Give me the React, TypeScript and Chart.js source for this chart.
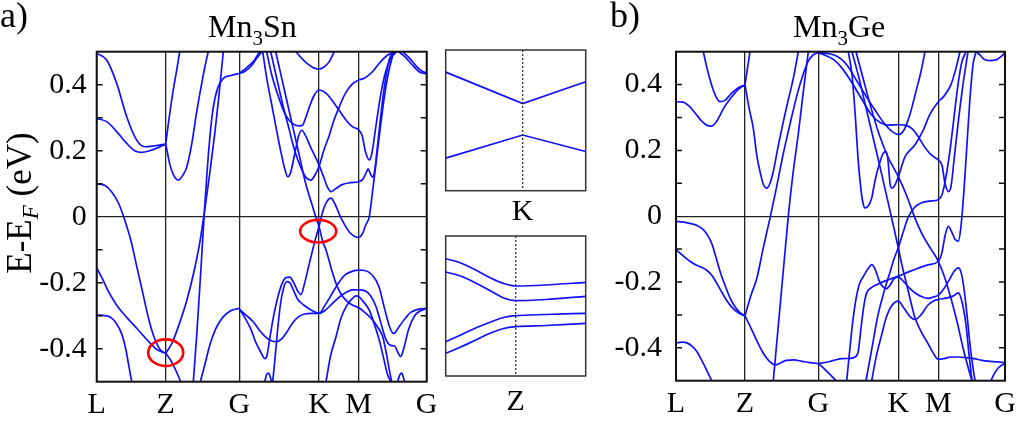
import React, { useEffect, useRef } from "react";
import { Chart, registerables } from "chart.js";
Chart.register(...registerables);

type Pt = [number, number];
const SERIF = '"Liberation Serif", "Times New Roman", serif';
const BLUE = "#1010ff";

// ---- axes ----
const kLabels = ["L", "Z", "G", "K", "M", "G"];
const snKTicks = [0, 69, 142.6, 222.3, 262, 330];
const geKTicks = [0, 69, 142.3, 222.3, 262.3, 329];
const energyTicks = [-0.4, -0.2, 0, 0.2, 0.4];
const minorTicks = [-0.4, -0.3, -0.2, -0.1, 0.1, 0.2, 0.3, 0.4];

// ---- Mn3Sn bands (k, E in eV) ----
const snLZ1: Pt[] = [[0,0.495],[10,0.475],[20,0.404],[30,0.303],[40,0.232],[48,0.212],[58,0.215],[69,0.22]];
const snLZ2: Pt[] = [[0,0.298],[10,0.288],[20,0.258],[30,0.222],[38,0.2],[45,0.195],[53,0.2],[62,0.21],[69,0.22]];
const snLZ3: Pt[] = [[0,0.1],[8,0.095],[15,0.075],[22,0.04],[28,-0.01],[34,-0.07],[40,-0.15],[46,-0.23],[52,-0.31],[58,-0.37],[64,-0.405],[69,-0.414]];
const snLZ4: Pt[] = [[0,-0.155],[6,-0.19],[12,-0.228],[20,-0.268],[30,-0.305],[40,-0.338],[50,-0.372],[60,-0.402],[69,-0.414]];
const snLZ5: Pt[] = [[0,-0.298],[8,-0.3],[14,-0.305],[20,-0.325],[25,-0.355],[29,-0.4],[32,-0.45],[35,-0.5]];
const snZG1: Pt[] = [[69,0.22],[72,0.29],[75,0.354],[78,0.41],[80,0.444],[83,0.5]];
const snZG2: Pt[] = [[69,0.22],[71,0.19],[73,0.16],[77,0.125],[81.6,0.111],[86,0.125],[90,0.15],[95,0.22],[100,0.318],[106,0.42],[110,0.48],[111.6,0.5]];
const snZG3: Pt[] = [[69,-0.414],[74,-0.435],[79,-0.465],[84,-0.5]];
const snZG4: Pt[] = [[69,-0.414],[75,-0.385],[82,-0.33],[90,-0.255],[97,-0.17],[103,-0.08],[108,0.02],[113,0.13],[118,0.25],[122,0.36],[126.6,0.5]];
const snZG5: Pt[] = [[96.6,-0.5],[100,-0.36],[104,-0.17],[108,0.03],[112,0.2],[116,0.32],[121,0.39],[127,0.42],[134,0.428],[142.6,0.434]];
const snZG6: Pt[] = [[103.6,-0.5],[108,-0.45],[113,-0.39],[119,-0.34],[126,-0.305],[134,-0.285],[142.6,-0.278]];
const snGK1: Pt[] = [[142.6,0.434],[150,0.452],[157,0.472],[163,0.5]];
const snGK2: Pt[] = [[142.6,0.434],[148,0.44],[154,0.455],[160,0.48],[165,0.5]];
const snGK3: Pt[] = [[166,0.5],[170,0.42],[175,0.34],[180,0.26],[185,0.185],[188.5,0.14],[191,0.121],[194,0.135],[198,0.19],[202,0.245],[205,0.262],[209,0.245],[214,0.21],[218,0.185],[222.3,0.157],[227,0.12],[231,0.088],[234.3,0.076],[239,0.085],[246,0.098],[254,0.103],[262,0.106],[266,0.113],[269,0.13],[271.5,0.145],[274,0.128],[276,0.12],[278,0.14],[281,0.22],[285,0.33],[289,0.42],[293,0.48],[297,0.5]];
const snGK4: Pt[] = [[170,0.5],[175,0.43],[181,0.37],[187,0.32],[193,0.29],[199,0.277],[203,0.275],[206,0.278],[209,0.3],[213,0.335],[217,0.365],[222.3,0.384],[229,0.375],[236,0.35],[243,0.32],[250,0.29],[256,0.272],[262,0.263],[265.5,0.245],[268.5,0.2],[272.6,0.172],[275,0.19],[279,0.27],[284,0.37],[289,0.44],[294,0.48],[300,0.5]];
const snGK5: Pt[] = [[174,0.5],[180,0.42],[186,0.34],[192,0.27],[198,0.2],[204,0.15],[209,0.12],[214.3,0.111],[218,0.125],[222.3,0.152],[227,0.2],[232.6,0.247],[237,0.29],[242.6,0.333],[248,0.37],[255,0.4],[262,0.414],[268,0.42],[276,0.44],[284,0.47],[291,0.49],[298,0.5]];
const snGK6: Pt[] = [[179,0.5],[185,0.42],[191,0.34],[197,0.26],[203,0.18],[209,0.1],[215,0.04],[219,0.0],[222.3,-0.03],[226,-0.075],[229.3,-0.101],[236,-0.172],[241,-0.215],[246,-0.242],[251,-0.258],[256,-0.268],[262,-0.276],[268,-0.29],[276,-0.313],[281,-0.335],[286,-0.364],[290,-0.42],[293,-0.47],[295,-0.5]];
const snGK7: Pt[] = [[222.3,-0.03],[226,0.015],[230,0.045],[234.3,0.056],[238,0.04],[243,0.005],[248,-0.025],[253,-0.048],[258,-0.06],[262,-0.063],[266,-0.05],[269,-0.025],[272.6,0.0],[276,0.08],[280,0.18],[284,0.28],[288,0.37],[292,0.44],[297,0.5]];
const snGK8: Pt[] = [[142.6,-0.28],[148,-0.305],[154,-0.34],[159,-0.38],[164,-0.41],[168,-0.43],[170,-0.424],[173,-0.37],[177,-0.3],[181,-0.245],[185,-0.205],[189,-0.185],[193,-0.183],[197,-0.2],[201,-0.225],[204.3,-0.236],[208,-0.2],[212,-0.15],[216,-0.1],[219,-0.065],[222.3,-0.03]];
const snGK9: Pt[] = [[142.6,-0.28],[150,-0.3],[157,-0.32],[163,-0.345],[169,-0.365],[174,-0.375],[179.3,-0.379],[185,-0.37],[190,-0.35],[196,-0.322],[202,-0.303],[208,-0.295],[215,-0.293],[222.3,-0.293],[228,-0.27],[235,-0.235],[242,-0.2],[249,-0.175],[256,-0.165],[262,-0.162],[268,-0.163],[275,-0.175],[282,-0.21],[288,-0.28],[293,-0.335],[297,-0.354],[302,-0.335],[308,-0.31],[314,-0.29],[322,-0.28],[330,-0.278]];
const snGK10: Pt[] = [[176,-0.5],[178,-0.44],[181,-0.34],[184,-0.26],[187,-0.215],[190,-0.197],[193,-0.2],[197,-0.225],[201,-0.25],[204,-0.26],[208,-0.27],[214,-0.282],[222.3,-0.293],[228,-0.285],[235,-0.265],[242,-0.245],[250,-0.228],[256,-0.222],[262,-0.222],[268,-0.224],[274,-0.24],[279,-0.27],[284,-0.32],[289,-0.37],[294,-0.39],[298,-0.392],[301,-0.41],[304,-0.424],[307,-0.4],[312,-0.34],[318,-0.3],[324,-0.285],[330,-0.278]];
const snGK11: Pt[] = [[168,-0.5],[170,-0.478],[172,-0.474],[174,-0.49],[175,-0.5]];
const snGK12: Pt[] = [[301,-0.5],[303,-0.48],[305,-0.474],[307,-0.49],[308,-0.5]];
const snGK13: Pt[] = [[229.3,-0.5],[234,-0.42],[239.3,-0.364],[244,-0.31],[249.3,-0.273],[255,-0.25],[259.3,-0.24],[262,-0.242],[266,-0.255],[272.6,-0.283],[277,-0.32],[282.6,-0.374],[287,-0.43],[291,-0.48],[294,-0.5]];
const snGK14: Pt[] = [[199.3,0.5],[205,0.48],[211,0.463],[217,0.451],[222.3,0.447],[227,0.453],[232.6,0.47],[237.6,0.5]];
const snGK15: Pt[] = [[302,0.5],[308,0.485],[315,0.462],[322,0.44],[330,0.432]];
const snGK16: Pt[] = [[306,0.5],[313,0.48],[320,0.455],[326,0.44],[330,0.435]];

// ---- Mn3Ge bands (k, E in eV) ----
const geLZ1: Pt[] = [[27.3,0.5],[31,0.45],[35,0.405],[39,0.37],[44,0.348],[49,0.352],[55,0.372],[62,0.39],[69,0.399]];
const geLZ2: Pt[] = [[0,0.348],[7,0.347],[13,0.335],[20,0.31],[26,0.288],[31,0.276],[35.7,0.274],[41,0.29],[48,0.33],[55,0.36],[62,0.385],[69,0.399]];
const geLZ3: Pt[] = [[0,-0.016],[8,-0.018],[14,-0.022],[21,-0.028],[27,-0.04],[32,-0.06],[36,-0.085],[40,-0.125],[44,-0.167],[49,-0.21],[54,-0.248],[59,-0.275],[64,-0.293],[69,-0.303]];
const geLZ4: Pt[] = [[0,-0.101],[7,-0.12],[14,-0.137],[20,-0.148],[26,-0.156],[31,-0.165],[36,-0.18],[41,-0.205],[46,-0.232],[51,-0.258],[56,-0.277],[62,-0.293],[69,-0.303]];
const geLZ5: Pt[] = [[0,-0.385],[6,-0.383],[11,-0.385],[16,-0.395],[21,-0.412],[26,-0.44],[31,-0.47],[35.7,-0.5]];
const geZG1: Pt[] = [[69,0.399],[71.5,0.45],[74,0.5]];
const geZG2: Pt[] = [[69,0.399],[73,0.33],[77.3,0.267],[81,0.18],[84,0.136],[87,0.1],[90.7,0.085],[94,0.1],[97.3,0.136],[102,0.21],[107.3,0.287],[112,0.35],[117.3,0.419],[122.3,0.5]];
const geZG3: Pt[] = [[69,-0.303],[75,-0.24],[81,-0.187],[87,-0.1],[94,-0.006],[100,0.08],[107,0.186],[114,0.28],[121,0.368],[127,0.43],[132,0.47],[137,0.49],[142.3,0.497]];
const geZG4: Pt[] = [[97.3,-0.5],[104.8,-0.25],[112.3,0],[117,0.13],[122.3,0.25],[127,0.37],[132.3,0.5]];
const geZG5: Pt[] = [[69,-0.303],[75,-0.34],[81,-0.38],[87,-0.415],[93,-0.44],[99,-0.452],[104,-0.447],[110,-0.438],[118,-0.437],[126,-0.441],[134,-0.445],[142.3,-0.448]];
const geGK1: Pt[] = [[142.3,0.497],[150,0.495],[158,0.49],[165,0.478],[172,0.455],[180,0.415],[190,0.365],[200,0.318],[208,0.283],[215,0.26],[222.3,0.248],[228,0.262],[234,0.31],[240,0.38],[245,0.44],[249,0.5]];
const geGK2: Pt[] = [[142.3,0.497],[150,0.488],[158,0.475],[166,0.45],[175,0.41],[185,0.36],[195,0.31],[205,0.283],[212,0.277],[222.3,0.278],[230,0.276],[236,0.266],[242,0.243],[248,0.213],[254,0.19],[258,0.18],[262.3,0.171],[266,0.155],[269,0.1],[272.3,0.075],[275,0.09],[278,0.17],[282,0.28],[287,0.4],[292,0.5]];
const geGK3: Pt[] = [[180,0.5],[187,0.42],[195,0.33],[203,0.25],[212,0.18],[222.3,0.12],[231,0.06],[239,-0.006],[247,-0.06],[255,-0.1],[262.3,-0.137],[268,-0.18],[275,-0.25],[281,-0.32],[287,-0.4],[293,-0.47],[296,-0.5]];
const geGK4: Pt[] = [[172.3,0.5],[176,0.43],[179,0.318],[182.3,0.166],[185,0.08],[187,0.04],[189,0.025],[192,0.03],[195.7,0.055],[198.5,0.1],[200.7,0.13],[204,0.165],[207,0.19],[210,0.196],[212,0.17],[214,0.1],[216,0.085],[219,0.095],[222.3,0.12],[229,0.18],[239,0.217],[247,0.26],[254,0.31],[262.3,0.348],[268,0.365],[275,0.4],[280,0.45],[284,0.5]];
const geGK5: Pt[] = [[176,0.5],[183,0.42],[190,0.33],[197,0.24],[204,0.15],[210,0.07],[216,-0.01],[222.3,-0.096],[226,-0.15],[229,-0.187],[234,-0.25],[239,-0.309],[245,-0.35],[252.3,-0.389],[258,-0.42],[262.3,-0.435],[268,-0.433],[275,-0.428],[282,-0.428],[290,-0.43],[298,-0.433],[306,-0.438],[314,-0.441],[321,-0.443],[329,-0.445]];
const geGK6: Pt[] = [[190,-0.5],[196,-0.4],[202,-0.3],[208,-0.23],[214,-0.17],[218,-0.13],[222.3,-0.096],[227,-0.05],[232,-0.005],[238,0.025],[245,0.04],[254,0.046],[262.3,0.05],[266,0.065],[270,0.12],[274,0.2],[278,0.3],[282,0.4],[286,0.47],[290,0.5]];
const geGK7: Pt[] = [[142.3,-0.448],[150,-0.444],[158,-0.438],[166,-0.433],[174,-0.432],[179,-0.428],[182.3,-0.41],[185,-0.34],[188,-0.27],[190.7,-0.233],[195,-0.218],[200.7,-0.208],[208,-0.198],[215,-0.19],[222.3,-0.182],[232,-0.17],[242,-0.158],[252,-0.148],[262.3,-0.137],[266,-0.11],[269,-0.06],[272.3,-0.031],[276,-0.05],[279,-0.07],[282.3,-0.076],[285,-0.03],[288,0.08],[291,0.22],[294,0.36],[297,0.46],[300,0.5]];
const geGK8: Pt[] = [[170.7,-0.5],[173,-0.43],[176,-0.34],[179,-0.27],[183,-0.21],[188,-0.18],[192,-0.16],[195.7,-0.147],[199,-0.16],[203,-0.195],[207,-0.215],[210.7,-0.22],[214,-0.21],[218,-0.19],[222.3,-0.185],[228,-0.2],[234,-0.22],[240,-0.235],[246,-0.245],[252,-0.25],[258,-0.245],[262.3,-0.24],[268,-0.22],[273,-0.195],[278,-0.168],[282.3,-0.157],[285,-0.17],[288,-0.22],[291,-0.3],[294,-0.39],[297,-0.46],[299,-0.5]];
const geGK9: Pt[] = [[195.7,-0.5],[200,-0.43],[205.7,-0.36],[210,-0.31],[215.7,-0.272],[222.3,-0.258],[228,-0.28],[234,-0.305],[239,-0.314],[245,-0.3],[252,-0.27],[258,-0.257],[262.3,-0.253],[270,-0.249],[277,-0.243],[282.3,-0.233],[286,-0.26],[290,-0.33],[293,-0.42],[296,-0.5]];
const geGK10: Pt[] = [[142.3,-0.448],[147,-0.46],[152,-0.475],[157,-0.49],[160,-0.5]];
const geGK11: Pt[] = [[315,-0.5],[318,-0.48],[322,-0.462],[326,-0.452],[329,-0.448]];
const geGK12: Pt[] = [[300,0.5],[304,0.49],[308,0.477],[314,0.473],[320,0.475],[325,0.485],[329,0.497]];

// ---- insets (relative units) ----
const insetKTick = 77;
const insetKUpper: Pt[] = [[0,118],[77,86.7],[140,108.4]];
const insetKLower: Pt[] = [[0,32.4],[77,55.4],[140,39]];
const insetZTick = 70;
const insetZ1: Pt[] = [[0,117.3],[15,113],[30,106],[45,98],[58,92.5],[70,90],[100,91],[140,93.7]];
const insetZ2: Pt[] = [[0,104],[15,100],[30,93],[45,85],[58,78],[70,75.3],[100,76.5],[140,79.7]];
const insetZ3: Pt[] = [[0,34.3],[15,41],[30,48],[45,54],[58,58.5],[70,60.3],[100,61.5],[140,62.7]];
const insetZ4: Pt[] = [[0,22.7],[15,29],[30,36],[45,43],[58,47.5],[70,49.3],[100,50.5],[140,52.7]];

const snBands = [snLZ1,snLZ2,snLZ3,snLZ4,snLZ5,snZG1,snZG2,snZG3,snZG4,snZG5,snZG6,snGK1,snGK2,snGK3,snGK4,snGK5,snGK6,snGK7,snGK8,snGK9,snGK10,snGK11,snGK12,snGK13,snGK14,snGK15,snGK16];
const geBands = [geLZ1,geLZ2,geLZ3,geLZ4,geLZ5,geZG1,geZG2,geZG3,geZG4,geZG5,geGK1,geGK2,geGK3,geGK4,geGK5,geGK6,geGK7,geGK8,geGK9,geGK10,geGK11,geGK12];

const toXY = (b: Pt[]) => b.map(([x, y]) => ({ x, y }));

type Part = { t: string; sub?: boolean; italic?: boolean };
function partsWidth(ctx: CanvasRenderingContext2D, parts: Part[], size: number, subSize: number) {
  let w = 0;
  for (const p of parts) {
    ctx.font = `${p.italic ? "italic " : ""}${p.sub ? subSize : size}px ${SERIF}`;
    w += ctx.measureText(p.t).width;
  }
  return w;
}
function drawParts(ctx: CanvasRenderingContext2D, x: number, y: number, parts: Part[], size: number, subSize: number, drop: number) {
  let cx = x;
  ctx.textAlign = "left";
  ctx.textBaseline = "alphabetic";
  ctx.fillStyle = "#000";
  for (const p of parts) {
    ctx.font = `${p.italic ? "italic " : ""}${p.sub ? subSize : size}px ${SERIF}`;
    ctx.fillText(p.t, cx, p.sub ? y + drop : y);
    cx += ctx.measureText(p.t).width;
  }
}

type Area = { left: number; top: number; right: number; bottom: number };

function bandConfig(p: {
  bands: Pt[][]; kTicks: number[]; xMax: number; w: number; h: number; area: Area;
  yPad: number; xPad: number; texts: (ctx: CanvasRenderingContext2D) => void;
  ellipses?: { k: number; e: number; rx: number; ry: number }[];
}): any {
  return {
    type: "line",
    data: {
      datasets: p.bands.map((b) => ({
        data: toXY(b), borderColor: BLUE, borderWidth: 1.7, pointRadius: 0, fill: false,
        cubicInterpolationMode: "monotone", clip: 0,
      })),
    },
    options: {
      animation: false, responsive: false, devicePixelRatio: 1, events: [],
      layout: { padding: { left: 0, top: p.area.top, right: p.w - p.area.right, bottom: 0 } },
      plugins: { legend: { display: false }, tooltip: { enabled: false } },
      scales: {
        x: {
          type: "linear", min: 0, max: p.xMax,
          afterBuildTicks: (s: any) => { s.ticks = p.kTicks.map((v) => ({ value: v })); },
          afterFit: (s: any) => { s.height = p.h - p.area.bottom; s.paddingLeft = 0; s.paddingRight = 0; },
          ticks: { autoSkip: false, maxRotation: 0, minRotation: 0, padding: p.xPad, color: "#000",
            font: { family: SERIF, size: 30 }, callback: (_v: any, i: number) => kLabels[i] },
          grid: { color: "#222", lineWidth: 1.3, drawTicks: false },
          border: { display: false },
        },
        y: {
          type: "linear", min: -0.5, max: 0.5,
          afterBuildTicks: (s: any) => { s.ticks = energyTicks.map((v) => ({ value: v })); },
          afterFit: (s: any) => { s.width = p.area.left; s.paddingTop = 0; s.paddingBottom = 0; },
          ticks: { padding: p.yPad, color: "#000", font: { family: SERIF, size: 30 },
            callback: (v: any) => (Number(v) === 0 ? "0" : Number(v).toFixed(1)) },
          grid: { color: (c: any) => (c.tick && c.tick.value === 0 ? "#222" : "rgba(0,0,0,0)"), lineWidth: 1.3, drawTicks: false },
          border: { display: false },
        },
      },
    },
    plugins: [{
      id: "deco",
      afterDatasetsDraw(chart: any) {
        const { ctx, chartArea: a, scales } = chart;
        const ys = scales.y, xs = scales.x;
        ctx.save();
        ctx.strokeStyle = "#111";
        ctx.lineWidth = 1.5;
        for (const v of minorTicks) {
          const py = ys.getPixelForValue(v);
          ctx.beginPath();
          ctx.moveTo(a.left, py); ctx.lineTo(a.left + 6, py);
          ctx.moveTo(a.right - 6, py); ctx.lineTo(a.right, py);
          ctx.stroke();
        }
        ctx.lineWidth = 2;
        ctx.strokeRect(a.left, a.top, a.right - a.left, a.bottom - a.top);
        if (p.ellipses) {
          ctx.strokeStyle = "#ff0000";
          ctx.lineWidth = 2.6;
          for (const el of p.ellipses) {
            ctx.beginPath();
            ctx.ellipse(xs.getPixelForValue(el.k), ys.getPixelForValue(el.e), el.rx, el.ry, 0, 0, Math.PI * 2);
            ctx.stroke();
          }
        }
        ctx.restore();
      },
      afterDraw(chart: any) {
        const ctx = chart.ctx;
        ctx.save();
        p.texts(ctx);
        ctx.restore();
      },
    }],
  };
}

function insetConfig(p: { lines: Pt[][]; tick: number; label: string; w: number; h: number; area: Area; xPad: number; curved: boolean }): any {
  return {
    type: "line",
    data: {
      datasets: p.lines.map((b) => ({
        data: toXY(b), borderColor: BLUE, borderWidth: 1.7, pointRadius: 0, fill: false,
        cubicInterpolationMode: p.curved ? "monotone" : "default", tension: 0, clip: 0,
      })),
    },
    options: {
      animation: false, responsive: false, devicePixelRatio: 1, events: [],
      layout: { padding: { left: p.area.left, top: p.area.top, right: p.w - p.area.right, bottom: 0 } },
      plugins: { legend: { display: false }, tooltip: { enabled: false } },
      scales: {
        x: {
          type: "linear", min: 0, max: 140,
          afterBuildTicks: (s: any) => { s.ticks = [{ value: p.tick }]; },
          afterFit: (s: any) => { s.height = p.h - p.area.bottom; s.paddingLeft = 0; s.paddingRight = 0; },
          ticks: { autoSkip: false, maxRotation: 0, padding: p.xPad, color: "#000",
            font: { family: SERIF, size: 30 }, callback: () => p.label },
          grid: { display: false, drawTicks: false },
          border: { display: false },
        },
        y: { type: "linear", min: 0, max: 140, display: false },
      },
    },
    plugins: [{
      id: "insetDeco",
      afterDatasetsDraw(chart: any) {
        const { ctx, chartArea: a, scales } = chart;
        ctx.save();
        const px = scales.x.getPixelForValue(p.tick);
        ctx.strokeStyle = "#222";
        ctx.lineWidth = 1.2;
        ctx.setLineDash([2, 2]);
        ctx.beginPath();
        ctx.moveTo(px, a.top); ctx.lineTo(px, a.bottom);
        ctx.stroke();
        ctx.setLineDash([]);
        ctx.strokeStyle = "#333";
        ctx.lineWidth = 1.5;
        ctx.strokeRect(a.left, a.top, a.right - a.left, a.bottom - a.top);
        ctx.restore();
      },
    }],
  };
}

function ChartBox(props: { left: number; top: number; w: number; h: number; make: () => any }) {
  const ref = useRef<HTMLCanvasElement>(null);
  useEffect(() => {
    const chart = new Chart(ref.current as HTMLCanvasElement, props.make());
    return () => chart.destroy();
  }, []);
  return (
    <canvas ref={ref} width={props.w} height={props.h}
      style={{ position: "absolute", left: props.left, top: props.top, width: props.w, height: props.h }} />
  );
}

const snTexts = (ctx: CanvasRenderingContext2D) => {
  ctx.fillStyle = "#000";
  ctx.font = `36px ${SERIF}`;
  ctx.textBaseline = "alphabetic";
  ctx.fillText("a)", 0, 27);
  drawParts(ctx, 208, 36.5, [{ t: "Mn" }, { t: "3", sub: true }, { t: "Sn" }], 32, 21, 8);
  const yParts: Part[] = [{ t: "E-E" }, { t: "F", sub: true, italic: true }, { t: " (eV)" }];
  const w = partsWidth(ctx, yParts, 35, 23);
  ctx.translate(31, 203);
  ctx.rotate(-Math.PI / 2);
  drawParts(ctx, -w / 2, 0, yParts, 35, 23, 7);
};

const geTexts = (ctx: CanvasRenderingContext2D) => {
  ctx.fillStyle = "#000";
  ctx.font = `36px ${SERIF}`;
  ctx.textBaseline = "alphabetic";
  ctx.fillText("b)", 10, 27);
  drawParts(ctx, 193, 36.5, [{ t: "Mn" }, { t: "3", sub: true }, { t: "Ge" }], 32, 21, 8);
};

export default function App() {
  return (
    <div style={{ position: "absolute", left: 0, top: 0, width: 1020, height: 421, background: "#fff", overflow: "hidden" }}>
      <ChartBox left={0} top={0} w={440} h={421} make={() => bandConfig({
        bands: snBands, kTicks: snKTicks, xMax: 330, w: 440, h: 421,
        area: { left: 96.7, top: 51.7, right: 426.7, bottom: 381.7 }, yPad: 10, xPad: 5, texts: snTexts,
        ellipses: [{ k: 69, e: -0.412, rx: 17.5, ry: 13.3 }, { k: 221.5, e: -0.044, rx: 18, ry: 11.3 }],
      })} />
      <ChartBox left={440} top={40} w={160} h={190} make={() => insetConfig({
        lines: [insetKUpper, insetKLower], tick: insetKTick, label: "K", w: 160, h: 190,
        area: { left: 5.7, top: 10, right: 145.7, bottom: 150.7 }, xPad: 3, curved: false,
      })} />
      <ChartBox left={440} top={226} w={160} h={195} make={() => insetConfig({
        lines: [insetZ1, insetZ2, insetZ3, insetZ4], tick: insetZTick, label: "Z", w: 160, h: 195,
        area: { left: 5.7, top: 10, right: 145.7, bottom: 150 }, xPad: 8, curved: true,
      })} />
      <ChartBox left={600} top={0} w={420} h={421} make={() => bandConfig({
        bands: geBands, kTicks: geKTicks, xMax: 329, w: 420, h: 421,
        area: { left: 76, top: 51.7, right: 405, bottom: 380.7 }, yPad: 14, xPad: 5, texts: geTexts,
      })} />
    </div>
  );
}
